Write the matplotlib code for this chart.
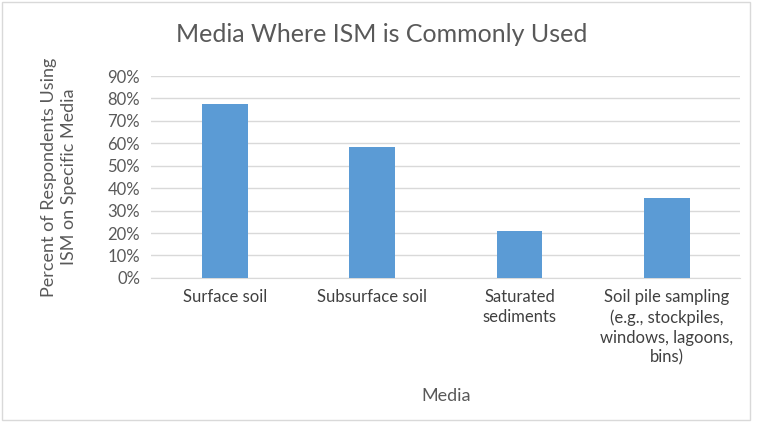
import matplotlib
matplotlib.use("Agg")
import matplotlib.pyplot as plt
from matplotlib.patches import Rectangle

categories = ["Surface soil", "Subsurface soil", "Saturated\nsediments",
              "Soil pile sampling\n(e.g., stockpiles,\nwindows, lagoons,\nbins)"]
values = [0.776, 0.582, 0.21, 0.356]
yticks = [0, 0.1, 0.2, 0.3, 0.4, 0.5, 0.6, 0.7, 0.8, 0.9]

plt.rcParams['font.family'] = ['Lato', 'DejaVu Sans']
fig = plt.figure(figsize=(7.68, 4.37), dpi=100)
fig.patches.append(Rectangle((0.002, 0.04), 0.975, 0.955, transform=fig.transFigure,
                             fill=False, edgecolor='#d9d9d9', lw=1))
ax = fig.add_axes([0.197, 0.364, 0.767, 0.462])
ax.bar(range(len(values)), values, width=0.31, color='#5b9bd5', zorder=3)
ax.set_xlim(-0.5, 3.5)
ax.set_ylim(0, 0.9)
ax.set_yticks(yticks)
ax.set_yticklabels([f"{int(round(t*100))}%" for t in yticks], fontsize=12, color='#595959')
ax.set_xticks(range(len(categories)))
ax.set_xticklabels(categories, fontsize=12, color='#404040', va='top', linespacing=1.3)
ax.tick_params(length=0, pad=8)
ax.grid(axis='y', color='#d9d9d9', lw=1, zorder=0)
for s in ['top', 'right', 'left']:
    ax.spines[s].set_visible(False)
ax.spines['bottom'].set_color('#d9d9d9')
ax.set_xlabel("Media", fontsize=13, color='#595959', labelpad=16)
ax.set_ylabel("Percent of Respondents Using\nISM on Specific Media", fontsize=13,
              color='#595959', labelpad=22, linespacing=1.3)
fig.text(0.497, 0.92, "Media Where ISM is Commonly Used", ha='center', va='center',
         fontsize=18, color='#595959')
fig.savefig("out.png", dpi=100)
